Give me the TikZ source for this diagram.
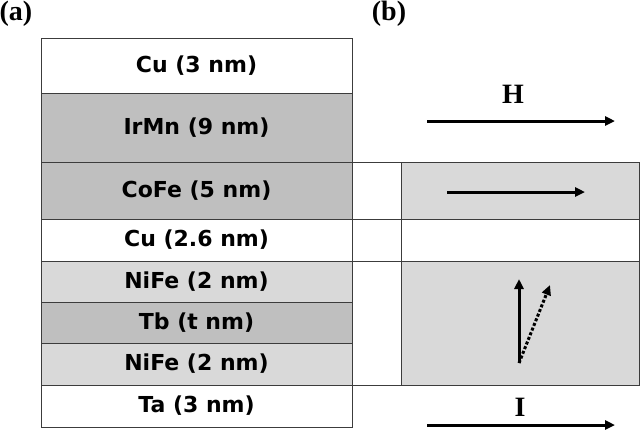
\documentclass[tikz,border=0pt]{standalone}
\usepackage{fontspec}
\setsansfont{DejaVu Sans}
\newfontfamily\serifbold{Liberation Serif}
\usepackage{xcolor}
\usepackage{tikz}
\usetikzlibrary{arrows.meta,positioning}

\definecolor{darkfill}{RGB}{191,191,191}
\definecolor{lightfill}{RGB}{217,217,217}
\definecolor{edgegray}{RGB}{60,60,60}

\begin{document}
\begin{tikzpicture}[x=1pt, y=-1pt,
    layer/.style={rectangle, draw=edgegray, line width=0.9pt, fill=white, minimum width=311pt, inner sep=0pt, outer sep=0pt, font=\sffamily\bfseries\fontsize{22}{26}\selectfont},
    sidebox/.style={rectangle, draw=edgegray, line width=0.9pt, fill=white, minimum width=238pt, inner sep=0pt, outer sep=0pt, anchor=north west},
    link/.style={draw=edgegray, line width=0.9pt},
    bigarrow/.style={-{Triangle[length=10pt, width=9pt]}, line width=3pt, black},
    dotarrow/.style={-{Triangle[length=10pt, width=9pt]}, line width=3pt, dotted, black},
    panel/.style={font=\serifbold\bfseries\fontsize{28}{32}\selectfont, inner sep=0pt},
    fieldlbl/.style={font=\serifbold\bfseries\fontsize{28}{32}\selectfont, inner sep=0pt}
  ]
    \useasboundingbox (0,0) rectangle (640,429);

    % --- PANEL LABELS ---
    \node[panel] (pa) at (16,14) {(a)};
    \node[panel] (pb) at (389,14) {(b)};

    % --- (a) LAYER STACK ---
    \node[layer, minimum height=55pt, anchor=north west] (cutop) at (41,38) {Cu (3 nm)};
    \node[layer, fill=darkfill, minimum height=69pt, below=0pt of cutop] (irmn) {IrMn (9 nm)};
    \node[layer, fill=darkfill, minimum height=57pt, below=0pt of irmn] (cofe) {CoFe (5 nm)};
    \node[layer, minimum height=42pt, below=0pt of cofe] (cumid) {Cu (2.6 nm)};
    \node[layer, fill=lightfill, minimum height=41pt, below=0pt of cumid] (nifetop) {NiFe (2 nm)};
    \node[layer, fill=darkfill, minimum height=41pt, below=0pt of nifetop] (tb) {Tb (t nm)};
    \node[layer, fill=lightfill, minimum height=42pt, below=0pt of tb] (nifebot) {NiFe (2 nm)};
    \node[layer, minimum height=42pt, below=0pt of nifebot] (ta) {Ta (3 nm)};

    % --- (b) MAGNETIC LAYERS ---
    \node[sidebox, fill=lightfill, minimum height=57pt] (cofeR) at (401,162) {};
    \node[sidebox, minimum height=42pt, below=0pt of cofeR] (cumidR) {};
    \node[sidebox, fill=lightfill, minimum height=124pt, below=0pt of cumidR] (nifeR) {};

    \draw[link] (cofe.north east) -- (cofeR.north west);
    \draw[link] (cofe.south east) -- (cumidR.north west);
    \draw[link] (cumid.south east) -- (nifeR.north west);
    \draw[link] (nifebot.south east) -- (nifeR.south west);

    % --- FIELD, CURRENT AND MOMENTS ---
    \node[fieldlbl] (hlbl) at (513,94) {H};
    \coordinate (hstart) at (427,121);
    \coordinate (hend) at (615,121);
    \draw[bigarrow] (hstart) -- (hend);

    \coordinate (pinstart) at (447,192);
    \coordinate (pinend) at (585,192);
    \draw[bigarrow] (pinstart) -- (pinend);

    \coordinate (freebase) at (519,363);
    \coordinate (freeup) at (519,279);
    \coordinate (freetilt) at (550,285);
    \draw[bigarrow] (freebase) -- (freeup);
    \draw[dotarrow] (freebase) -- (freetilt);

    \node[fieldlbl] (ilbl) at (520,407) {I};
    \coordinate (istart) at (427,425);
    \coordinate (iend) at (615,425);
    \draw[bigarrow] (istart) -- (iend);
  \end{tikzpicture}
\end{document}
